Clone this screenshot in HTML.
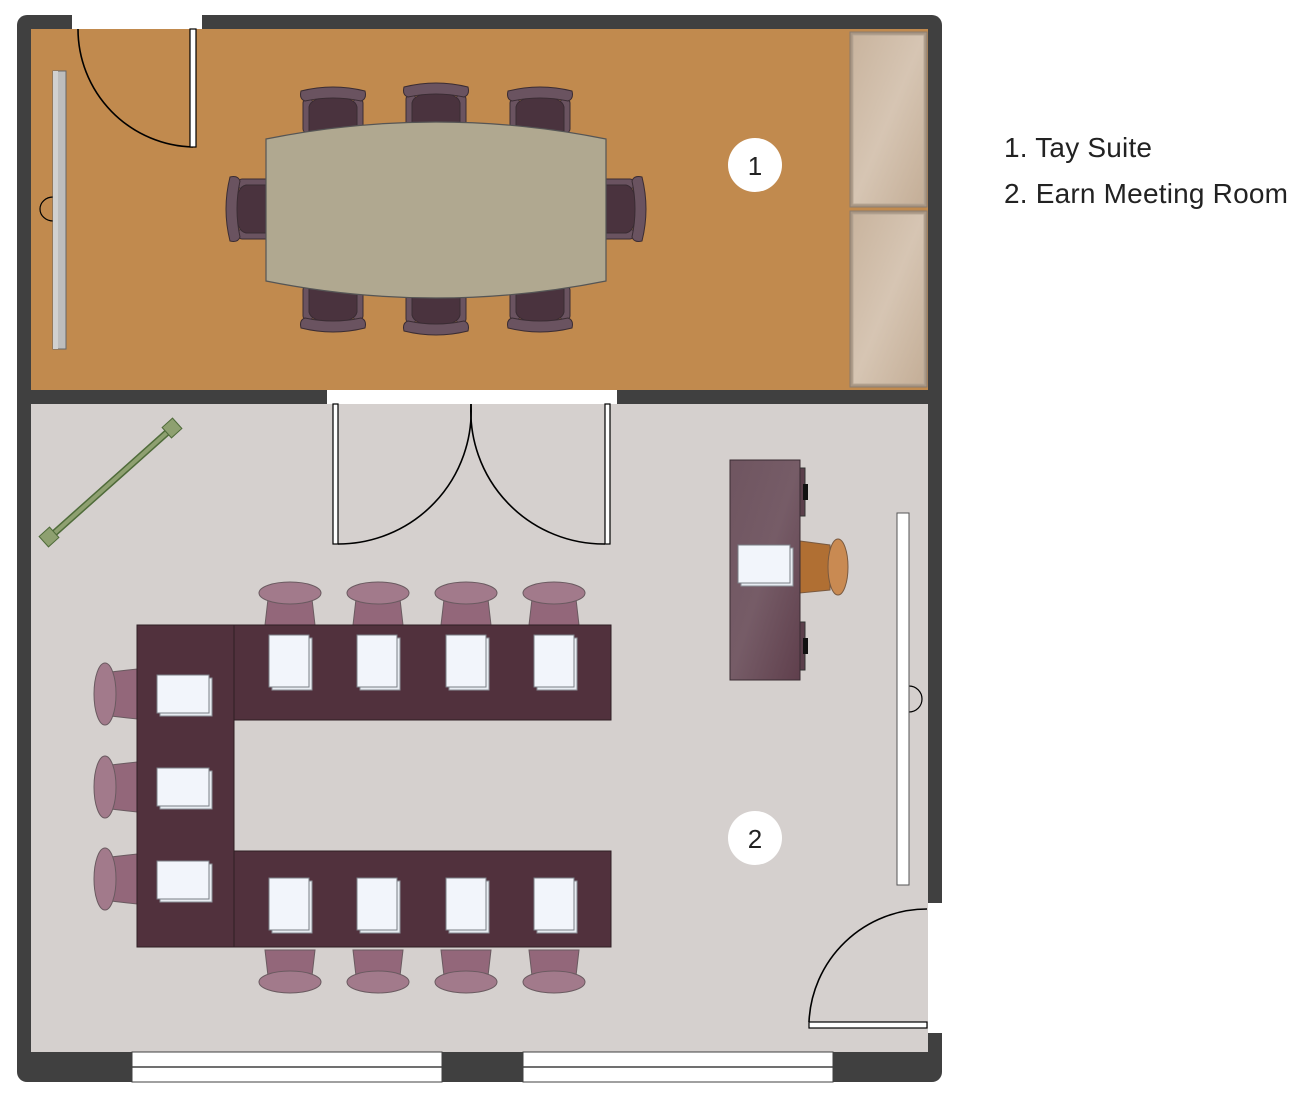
<!DOCTYPE html>
<html><head><meta charset="utf-8"><style>
html,body{margin:0;padding:0;background:#fff;}
svg{display:block;}
</style></head><body>
<svg width="1316" height="1100" viewBox="0 0 1316 1100" xmlns="http://www.w3.org/2000/svg">
<defs>
  <linearGradient id="dk" x1="0" y1="0" x2="1" y2="1">
    <stop offset="0" stop-color="#6f5560"/><stop offset="0.5" stop-color="#765c67"/><stop offset="1" stop-color="#5f3f4c"/>
  </linearGradient>
  <linearGradient id="cl" x1="0" y1="0" x2="1" y2="1">
    <stop offset="0" stop-color="#c9b49e"/><stop offset="0.5" stop-color="#d6c5b3"/><stop offset="1" stop-color="#c4ae97"/>
  </linearGradient>
  <g id="ch1">
    <rect x="-30" y="4" width="10" height="34" rx="4" fill="#6a5360" stroke="#3a2c33"/>
    <rect x="20" y="4" width="10" height="34" rx="4" fill="#6a5360" stroke="#3a2c33"/>
    <path d="M-24 12 Q-22 2 0 2 Q22 2 24 12 L24 40 L-24 40 Z" fill="#4a333e" stroke="#3a2c33"/>
    <path d="M-32 -4 Q0 -12 32 -4 Q34 4 28 6 Q0 0 -28 6 Q-34 4 -32 -4 Z" fill="#6a5360" stroke="#3a2c33"/>
  </g>
  <g id="ch2">
    <path d="M-22 16 L22 16 L25 42 L-25 42 Z" fill="#93677a" stroke="#6a5a60"/>
    <ellipse cx="0" cy="10" rx="31" ry="11" fill="#a27a8b" stroke="#6a5a60"/>
  </g>
  <g id="pp">
    <rect x="3" y="3" width="40" height="52" fill="#e8ecf2" stroke="#8a8f96"/>
    <rect x="0" y="0" width="40" height="52" fill="#f2f5fb" stroke="#7a7f86"/>
  </g>
  <g id="pl">
    <rect x="3" y="3" width="52" height="38" fill="#e8ecf2" stroke="#8a8f96"/>
    <rect x="0" y="0" width="52" height="38" fill="#f2f5fb" stroke="#7a7f86"/>
  </g>
</defs>

<rect x="17" y="15" width="925" height="1067" rx="10" fill="#404040"/>
<rect x="31" y="29" width="897" height="361" fill="#c18a4e"/>
<rect x="31" y="404" width="897" height="648" fill="#d5d0ce"/>

<rect x="72" y="15" width="130" height="14" fill="#fff"/>
<rect x="327" y="390" width="290" height="14" fill="#fff"/>
<rect x="928" y="903" width="14" height="130" fill="#fff"/>
<rect x="132" y="1052" width="310" height="30" fill="#fff" stroke="#404040"/>
<line x1="132" y1="1067" x2="442" y2="1067" stroke="#404040" stroke-width="1.5"/>
<rect x="523" y="1052" width="310" height="30" fill="#fff" stroke="#404040"/>
<line x1="523" y1="1067" x2="833" y2="1067" stroke="#404040" stroke-width="1.5"/>

<path d="M78 29 A118 118 0 0 0 193 147" fill="none" stroke="#000" stroke-width="1.6"/>
<rect x="190" y="29" width="6" height="118" fill="#fff" stroke="#000" stroke-width="1.2"/>

<path d="M53 197 A13 12 0 0 0 53 221" fill="none" stroke="#000" stroke-width="1.2"/>
<rect x="53" y="71" width="13" height="278" fill="#bdbdbd" stroke="#666"/>
<rect x="53" y="71" width="5" height="278" fill="#d0d0d0"/>

<rect x="850" y="32" width="77" height="175" fill="#a89684" stroke="#8a7c6e"/>
<rect x="853" y="35" width="71" height="169" fill="url(#cl)" stroke="#b8a896"/>
<rect x="850" y="211" width="77" height="176" fill="#a89684" stroke="#8a7c6e"/>
<rect x="853" y="214" width="71" height="170" fill="url(#cl)" stroke="#b8a896"/>

<use href="#ch1" transform="translate(333,95)"/>
<use href="#ch1" transform="translate(436,91)"/>
<use href="#ch1" transform="translate(540,95)"/>
<use href="#ch1" transform="translate(333,324) scale(1,-1)"/>
<use href="#ch1" transform="translate(436,327) scale(1,-1)"/>
<use href="#ch1" transform="translate(540,324) scale(1,-1)"/>
<use href="#ch1" transform="translate(234,209) rotate(-90)"/>
<use href="#ch1" transform="translate(638,209) rotate(90)"/>
<path d="M266 139 Q436 105 606 139 L606 281 Q436 315 266 281 Z" fill="#b0a890" stroke="#555" stroke-width="1.2"/>

<circle cx="755" cy="165" r="27" fill="#fff"/>
<text x="755" y="175" font-family="Liberation Sans, sans-serif" font-size="26" text-anchor="middle" fill="#222">1</text>

<path d="M338 544 A133 133 0 0 0 471 404" fill="none" stroke="#000" stroke-width="1.6"/>
<path d="M471 404 A133 133 0 0 0 605 544" fill="none" stroke="#000" stroke-width="1.6"/>
<rect x="333" y="404" width="5" height="140" fill="#fff" stroke="#000" stroke-width="1.2"/>
<rect x="605" y="404" width="5" height="140" fill="#fff" stroke="#000" stroke-width="1.2"/>

<line x1="50" y1="537" x2="171" y2="429" stroke="#4f6b3a" stroke-width="7"/>
<line x1="50" y1="537" x2="171" y2="429" stroke="#8ea070" stroke-width="4"/>
<rect x="42" y="530" width="14" height="14" fill="#8ea070" stroke="#4f6b3a" transform="rotate(-42 49 537)"/>
<rect x="165" y="421" width="14" height="14" fill="#8ea070" stroke="#4f6b3a" transform="rotate(-42 172 428)"/>

<rect x="800" y="468" width="5" height="48" fill="#5b3f4b" stroke="#333"/>
<rect x="803" y="484" width="5" height="16" fill="#111"/>
<rect x="800" y="622" width="5" height="48" fill="#5b3f4b" stroke="#333"/>
<rect x="803" y="638" width="5" height="16" fill="#111"/>
<path d="M800 541 L830 545 L830 590 L800 593 Z" fill="#b06f33" stroke="#7a5a40"/>
<ellipse cx="838" cy="567" rx="10" ry="28" fill="#c98a52" stroke="#7a5a40"/>
<rect x="730" y="460" width="70" height="220" fill="url(#dk)" stroke="#3a2c33"/>
<use href="#pl" transform="translate(738,545)"/>

<path d="M909 686 A13 13 0 0 1 909 712" fill="none" stroke="#000" stroke-width="1.2"/>
<rect x="897" y="513" width="12" height="372" fill="#fff" stroke="#555"/>

<path d="M809 1022 A118 118 0 0 1 927 909" fill="none" stroke="#000" stroke-width="1.6"/>
<rect x="809" y="1022" width="118" height="6" fill="#fff" stroke="#000" stroke-width="1.2"/>

<use href="#ch2" transform="translate(290,583)"/>
<use href="#ch2" transform="translate(378,583)"/>
<use href="#ch2" transform="translate(466,583)"/>
<use href="#ch2" transform="translate(554,583)"/>
<use href="#ch2" transform="translate(290,992) scale(1,-1)"/>
<use href="#ch2" transform="translate(378,992) scale(1,-1)"/>
<use href="#ch2" transform="translate(466,992) scale(1,-1)"/>
<use href="#ch2" transform="translate(554,992) scale(1,-1)"/>
<use href="#ch2" transform="translate(95,694) rotate(-90)"/>
<use href="#ch2" transform="translate(95,787) rotate(-90)"/>
<use href="#ch2" transform="translate(95,879) rotate(-90)"/>

<rect x="137" y="625" width="97" height="322" fill="#51313d" stroke="#2e1e24"/>
<rect x="234" y="625" width="377" height="95" fill="#51313d" stroke="#2e1e24"/>
<rect x="234" y="851" width="377" height="96" fill="#51313d" stroke="#2e1e24"/>
<use href="#pp" transform="translate(269,635)"/>
<use href="#pp" transform="translate(357,635)"/>
<use href="#pp" transform="translate(446,635)"/>
<use href="#pp" transform="translate(534,635)"/>
<use href="#pp" transform="translate(269,878)"/>
<use href="#pp" transform="translate(357,878)"/>
<use href="#pp" transform="translate(446,878)"/>
<use href="#pp" transform="translate(534,878)"/>
<use href="#pl" transform="translate(157,675)"/>
<use href="#pl" transform="translate(157,768)"/>
<use href="#pl" transform="translate(157,861)"/>

<circle cx="755" cy="838" r="27" fill="#fff"/>
<text x="755" y="848" font-family="Liberation Sans, sans-serif" font-size="26" text-anchor="middle" fill="#222">2</text>

<text x="1004" y="157" font-family="Liberation Sans, sans-serif" font-size="28" letter-spacing="0.2" fill="#222">1. Tay Suite</text>
<text x="1004" y="203" font-family="Liberation Sans, sans-serif" font-size="28" letter-spacing="0.2" fill="#222">2. Earn Meeting Room</text>
</svg>
</body></html>
